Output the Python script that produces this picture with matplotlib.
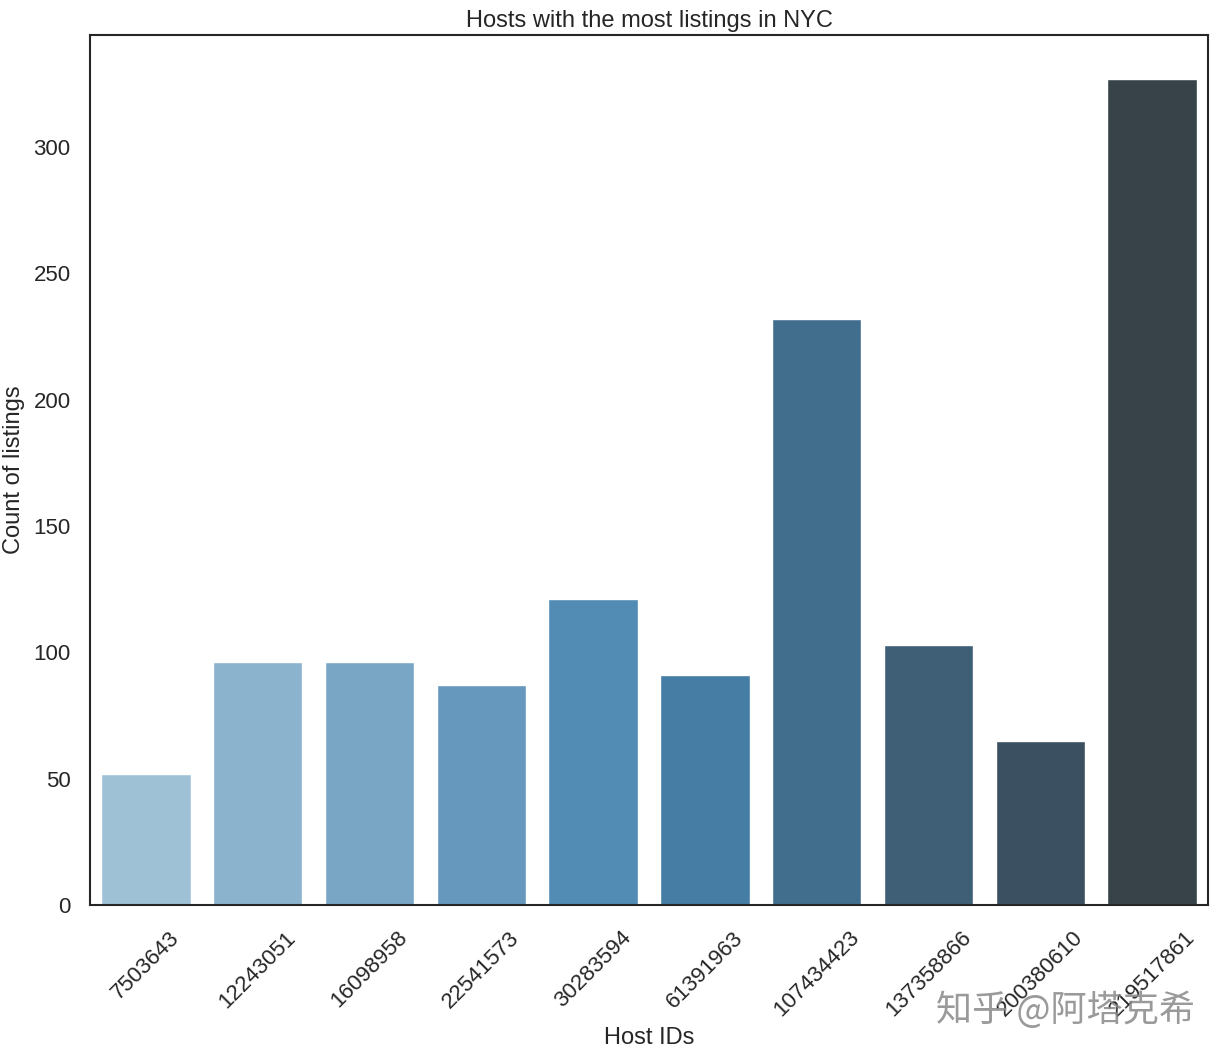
import matplotlib
matplotlib.use('Agg')
import matplotlib.pyplot as plt
import seaborn as sns

host_ids = ['7503643', '12243051', '16098958', '22541573', '30283594',
            '61391963', '107434423', '137358866', '200380610', '219517861']
listing_counts = [52, 96, 96, 87, 121, 91, 232, 103, 65, 327]

sns.set_theme(style='white')
plt.rcParams['font.family'] = ['Liberation Sans', 'Noto Sans CJK SC', 'DejaVu Sans']
plt.rcParams['text.color'] = '#262626'

fig = plt.figure(figsize=(12.28, 10.56), dpi=100)
ax = fig.add_axes([90 / 1228, 1 - 905 / 1056, 1118 / 1228, 870 / 1056])
# old seaborn barplot desaturated the palette to 0.75
colors = [sns.desaturate(c, 0.75) for c in sns.color_palette('Blues_d', len(host_ids))]
ax.bar(range(len(host_ids)), listing_counts, width=0.8, color=colors)
ax.set_xlim(-0.5, len(host_ids) - 0.5)
ax.set_ylim(0, max(listing_counts) * 1.053)
ax.set_xticks(range(len(host_ids)))
ax.set_xticklabels(host_ids, rotation=45, fontsize=16, color='#262626')
ax.tick_params(axis='x', pad=10)
ax.tick_params(axis='y', labelsize=16, labelcolor='#262626', pad=8)
ax.set_title('Hosts with the most listings in NYC', fontsize=17, pad=6)
ax.set_xlabel('Host IDs', fontsize=17, labelpad=4)
ax.set_ylabel('Count of listings', fontsize=17, labelpad=6)
for spine in ax.spines.values():
    spine.set_color('#262626')
    spine.set_linewidth(1.5)

fig.text(1065 / 1228, 1 - 1010 / 1056, '知乎 @阿塔克希', fontsize=26,
         color='#888888', alpha=0.85, ha='center', va='center',
         family=['Noto Sans CJK SC', 'DejaVu Sans'])

fig.savefig('out.png', dpi=100)
